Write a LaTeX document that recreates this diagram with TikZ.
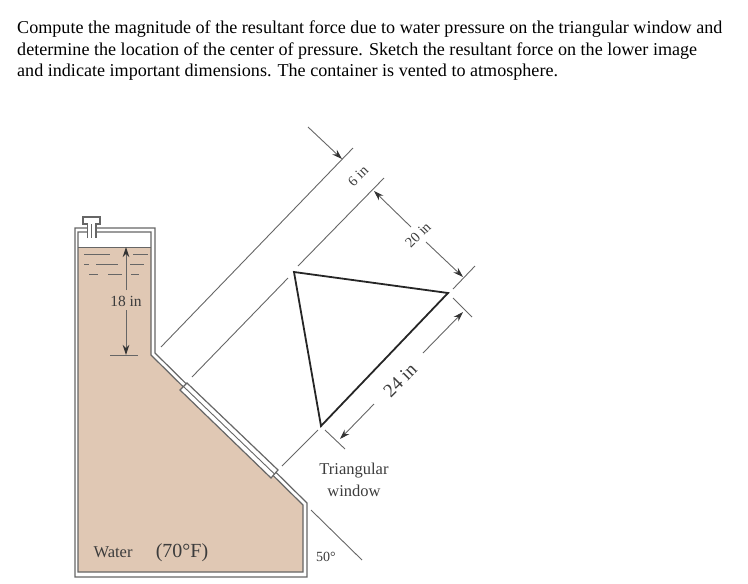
\documentclass[tikz,border=0pt]{standalone}
\usepackage{fontspec}
\setmainfont{Liberation Serif}
\usetikzlibrary{arrows.meta}
\definecolor{waterfill}{HTML}{E0C8B4}
\definecolor{wallgray}{HTML}{666666}
\definecolor{labelgray}{HTML}{3C3C3C}
\tikzset{
	wall/.style={draw=wallgray, line width=1.2pt, line join=miter},
	thinline/.style={draw=wallgray, line width=0.9pt},
	dimarrow/.style={thinline, -{Stealth[length=10pt,width=6.5pt,color=black!80]}},
	label/.style={text=labelgray, font=\fontsize{15.5}{17}\selectfont, inner sep=0pt},
	task/.style={text=black, font=\fontsize{18.1}{21.5}\selectfont, inner sep=0pt, align=left, anchor=north west}
}

\begin{document}
\begin{tikzpicture}[x=1pt, y=-1pt]
		%%%%% START %%%%%
		\useasboundingbox (0, 0) rectangle (748, 584);

		\node[task] (question) at (17, 21) {Compute the magnitude of the resultant force due to water pressure on the triangular window and\\determine the location of the center of pressure. Sketch the resultant force on the lower image\\and indicate important dimensions. The container is vented to atmosphere.};

		% tank
		\draw[wall, fill=white] (75, 228) -- (155, 228) -- (155, 353) -- (307, 503) -- (307, 577) -- (75, 577) -- cycle;
		\fill[waterfill] (78, 247) -- (151, 247) -- (151, 355) -- (303, 505) -- (303, 572) -- (78, 572) -- cycle;
		\draw[wall] (78, 232) -- (151, 232) -- (151, 355) -- (303, 505) -- (303, 572) -- (78, 572) -- cycle;
		\draw[thinline] (78, 247) -- (151, 247);

		% valve
		\draw[wall, fill=white] (87.5, 238) -- (87.5, 224) -- (83, 224) -- (83, 217) -- (100, 217) -- (100, 224) -- (96, 224) -- (96, 238);
		\draw[thinline] (91.5, 224) -- (91.5, 238);

		% water lines
		\foreach \xa/\xb/\yy in {84/110/254, 133/148/254, 84/89/264, 96/118/264, 130/144/264, 89/98/274, 108/122/274, 131/139/274}
			\draw[thinline] (\xa, \yy) -- (\xb, \yy);

		% window in the wall
		\draw[wall, fill=white] (187, 383) -- (180, 390) -- (271, 478) -- (278, 470) -- cycle;
		\draw[thinline] (183.5, 386.5) -- (274.5, 474);

		% triangle
		\draw[line width=1.8pt, draw=black!85, line join=miter] (294, 272) -- (448, 293) -- (321, 426) -- cycle;

		% extension lines
		\draw[thinline] (161, 347) -- (353, 148);
		\draw[thinline] (192, 377) -- (288, 278);
		\draw[thinline] (298, 266) -- (384, 178);
		\draw[thinline] (282, 466) -- (318, 430);
		\draw[thinline] (325, 430) -- (345, 449);
		\draw[thinline] (453, 289) -- (475, 266);
		\draw[thinline] (453, 298) -- (472, 317);
		\draw[thinline] (311, 510) -- (362, 560);

		% dimensions
		\draw[dimarrow] (126, 290) -- (126, 247);
		\draw[dimarrow] (126, 310) -- (126, 355);
		\draw[thinline] (110, 355) -- (138, 355);
		\draw[dimarrow] (308, 127) -- (342, 159);
		\draw[dimarrow] (411, 227) -- (374, 191);
		\draw[dimarrow] (426, 242) -- (463, 277);
		\draw[dimarrow] (374, 404) -- (340, 439);
		\draw[dimarrow] (423, 353) -- (463, 312);

		\node[label] (depth) at (126, 301) {18 in};
		\node[label, rotate=45, font=\fontsize{14.5}{16}\selectfont] (gap) at (358, 176) {6 in};
		\node[label, rotate=45, font=\fontsize{14.5}{16}\selectfont] (height) at (418, 235) {20 in};
		\node[label, rotate=45, font=\fontsize{19}{21}\selectfont] (base) at (400, 380) {24 in};
		\node[label, font=\fontsize{16.5}{18}\selectfont] (water) at (113, 552) {Water};
		\node[label, font=\fontsize{20}{22}\selectfont] (temp) at (182, 553) {(70°F)};
		\node[label, font=\fontsize{14}{16}\selectfont] (angle) at (326, 557) {50°};
		\node[label, align=center, font=\fontsize{16.5}{22}\selectfont] (window) at (354, 480) {Triangular\\window};
		%%%%% END %%%%%
	\end{tikzpicture}
\end{document}
